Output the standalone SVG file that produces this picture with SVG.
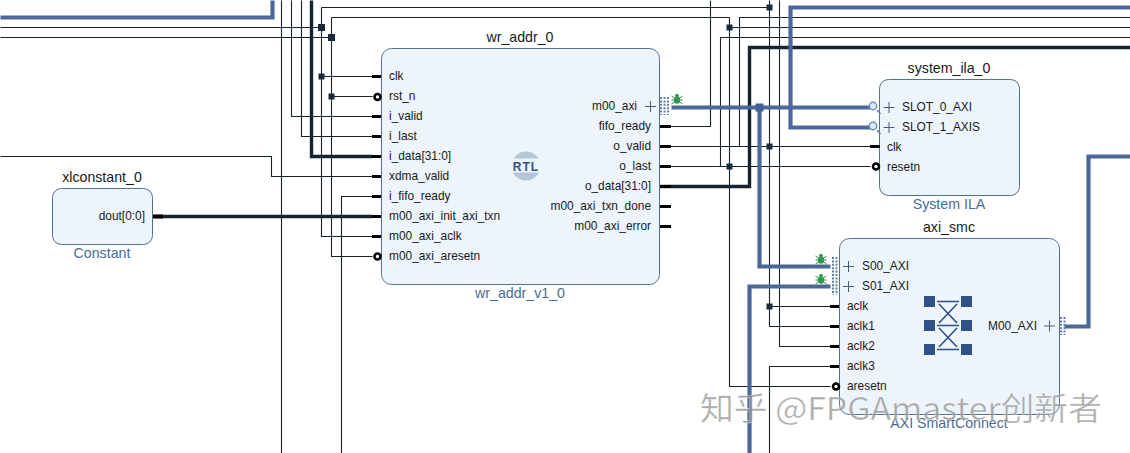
<svg xmlns="http://www.w3.org/2000/svg" width="1130" height="453" viewBox="0 0 1130 453">
<style>
text{font-family:"Liberation Sans",Arial,sans-serif}
.box{fill:#edf4fc;stroke:#54708f;stroke-width:1}
.t{font-size:14.200px;fill:#1a1a1a;text-anchor:middle}
.s{font-size:14.200px;fill:#4d6b91;text-anchor:middle}
.p{font-size:11.900px;fill:#1a1a1a}
.e{text-anchor:end}
.w{fill:none;stroke:#16222c;stroke-width:1.1}
.d{fill:none;stroke:#15242f;stroke-width:3.400}
.b{fill:none;stroke:#4c6899;stroke-width:4.200}
.j{fill:#1a2a38}
.st{stroke:#000;stroke-width:3;fill:none}
.inv{fill:#fff;stroke:#000;stroke-width:2.600}
.pl{stroke:#4a5d78;stroke-width:1;fill:none}
.dots{stroke:#5f7da8;stroke-width:2;stroke-dasharray:2 1.400;fill:none}
.ic{fill:#2f5286}
.icl{stroke:#2f5286;stroke-width:1.600;fill:none}
.bug{fill:#2e9a4c}
.bugl{stroke:#2e9a4c;stroke-width:1;fill:none}
.mag{fill:#dbe8f5;stroke:#5d86ad;stroke-width:1.200}
.wm{font-family:"Noto Sans CJK SC","Liberation Sans",sans-serif;font-size:31.500px;fill:#8c8c8c;fill-opacity:.72;stroke:#fff;stroke-width:.6;stroke-opacity:.6}
</style>
<defs>
<g id="bug"><ellipse cx="0" cy="0.5" rx="3.200" ry="3.800" class="bug"/><circle cx="0" cy="-4" r="1.800" class="bug"/><path class="bugl" d="M-5.500-3.500-2.500-1.500M5.500-3.500 2.500-1.500M-5.500 .5H-2.500M5.500 .5H2.500M-5.500 4.500-2.500 2.500M5.500 4.500 2.500 2.500"/></g>
<g id="plus"><path class="pl" d="M-5.500 0H5.500M0-5.500V5.500"/></g>
<g id="mag"><path d="M4 4 7.500 8" stroke="#5d86ad" stroke-width="1.500"/><circle r="3.800" class="mag"/></g>
</defs>

<g id="connectors" transform="translate(.5 .5)">
<path class="w" d="M0 27H321M0 37H331M281 0V453M291 0V116H372M301 0V136H372M321 7V236H372M331 17V256H372M321 76H372M331 96H372"/>
<path class="w" d="M321 7H769M331 17H729M769 0V326H830M779 0V346H830M729 17V386H830M729 27H1130M739 146V17H1130M720 166V37H1130"/>
<path class="w" d="M660 146H870M660 166H870M660 126H710V0M341 453V196H372M830 366H769V453M769 306H830M0 156H271V176H372"/>
<path class="d" d="M311 0V156H372M155 216H372M660 186H749V47H1130"/>
<path class="b" d="M0 17H272V0M671 107H870M759 107V266H830M870 127H790V7H1130M830 286H749V453M1064 326H1088V156H1130"/>
<rect x="755" y="103" width="8" height="8" fill="#3f5f96"/>
<rect class="j" x="317.500" y="23.500" width="7" height="7"/>
<rect class="j" x="327.500" y="33.500" width="7" height="7"/>
<rect class="j" x="318" y="73" width="6" height="6"/>
<rect class="j" x="328" y="93" width="6" height="6"/>
<rect class="j" x="766" y="4" width="6" height="6"/>
<rect class="j" x="726" y="24" width="6" height="6"/>
<rect class="j" x="766" y="143" width="6" height="6"/>
<rect class="j" x="726" y="163" width="6" height="6"/>
<rect class="j" x="766" y="303" width="6" height="6"/>
</g>

<g id="xlconstant_0">
<rect class="box" x="52.500" y="188.500" width="100" height="56" rx="9"/>
<text class="t" x="102" y="182">xlconstant_0</text>
<text class="s" x="102" y="258">Constant</text>
<text class="p e" x="145" y="220">dout[0:0]</text>
<path d="M153 216.500H163" stroke="#000" stroke-width="4"/>
</g>

<g id="wr_addr_0">
<rect class="box" x="381.500" y="48.500" width="278" height="236" rx="10"/>
<text class="t" x="520" y="42">wr_addr_0</text>
<text class="s" x="520" y="298">wr_addr_v1_0</text>
<path class="st" transform="translate(0 .5)" d="M372 76H381M372 116H381M372 136H381M372 156H381M372 176H381M372 196H381M372 216H381M372 236H381"/>
<path class="st" transform="translate(0 .5)" d="M660 126H671M660 146H671M660 166H671M660 186H671M660 206H671M660 226H671"/>
<circle class="inv" cx="377.500" cy="97" r="3"/>
<circle class="inv" cx="377.500" cy="256.500" r="3"/>
<text class="p" x="389" y="80">clk</text>
<text class="p" x="389" y="100">rst_n</text>
<text class="p" x="389" y="120">i_valid</text>
<text class="p" x="389" y="140">i_last</text>
<text class="p" x="389" y="160">i_data[31:0]</text>
<text class="p" x="389" y="180">xdma_valid</text>
<text class="p" x="389" y="200">i_fifo_ready</text>
<text class="p" x="389" y="220">m00_axi_init_axi_txn</text>
<text class="p" x="389" y="240">m00_axi_aclk</text>
<text class="p" x="389" y="260">m00_axi_aresetn</text>
<text class="p e" x="637" y="110">m00_axi</text>
<text class="p e" x="651" y="130">fifo_ready</text>
<text class="p e" x="651" y="150">o_valid</text>
<text class="p e" x="651" y="170">o_last</text>
<text class="p e" x="651" y="190">o_data[31:0]</text>
<text class="p e" x="651" y="210">m00_axi_txn_done</text>
<text class="p e" x="651" y="230">m00_axi_error</text>
<use href="#plus" x="650.500" y="106.500"/>
<path class="dots" d="M661 97V115M664.500 97V115M668 97V115"/>
<use href="#bug" x="677" y="99.500"/>
<circle cx="526" cy="166" r="14.500" fill="#b3c6d6"/>
<rect x="511" y="158.500" width="30" height="14" fill="#edf4fc"/>
<text x="526" y="170.500" font-size="12" font-weight="700" letter-spacing="1" fill="#2f5286" text-anchor="middle">RTL</text>
</g>

<g id="system_ila_0">
<rect class="box" x="879.500" y="79.500" width="140" height="116" rx="9"/>
<text class="t" x="949" y="73">system_ila_0</text>
<text class="s" x="949" y="209">System ILA</text>
<use href="#mag" x="873" y="106"/>
<use href="#mag" x="873" y="126"/>
<use href="#plus" x="889" y="107.500"/>
<use href="#plus" x="889" y="127.500"/>
<path class="st" transform="translate(0 .5)" d="M870 146H880"/>
<circle class="inv" cx="876" cy="166.500" r="3"/>
<text class="p" x="902" y="111">SLOT_0_AXI</text>
<text class="p" x="902" y="131">SLOT_1_AXIS</text>
<text class="p" x="887" y="151">clk</text>
<text class="p" x="887" y="171">resetn</text>
</g>

<g id="axi_smc">
<rect class="box" x="839.500" y="238.500" width="220" height="176" rx="10"/>
<text class="t" x="949" y="232">axi_smc</text>
<text class="s" x="949" y="428">AXI SmartConnect</text>
<path class="st" transform="translate(0 .5)" d="M830 306H839M830 326H839M830 346H839M830 366H839"/>
<circle class="inv" cx="836" cy="386.500" r="3"/>
<path class="dots" d="M833 257V295M836.500 257V295"/>
<use href="#bug" x="821" y="259.500"/>
<use href="#bug" x="821" y="279.500"/>
<use href="#plus" x="848.500" y="266.500"/>
<use href="#plus" x="848.500" y="286.500"/>
<text class="p" x="862" y="270">S00_AXI</text>
<text class="p" x="862" y="290">S01_AXI</text>
<text class="p" x="847" y="310">aclk</text>
<text class="p" x="847" y="330">aclk1</text>
<text class="p" x="847" y="350">aclk2</text>
<text class="p" x="847" y="370">aclk3</text>
<text class="p" x="847" y="390">aresetn</text>
<text class="p e" x="1037" y="330">M00_AXI</text>
<use href="#plus" x="1049.500" y="326"/>
<path class="dots" d="M1061 317V335M1064.500 317V335"/>
<g id="smc_icon">
<rect class="ic" x="924" y="296" width="11" height="11"/><rect class="ic" x="961" y="296" width="11" height="11"/>
<rect class="ic" x="924" y="320" width="11" height="11"/><rect class="ic" x="961" y="320" width="11" height="11"/>
<rect class="ic" x="924" y="344" width="11" height="11"/><rect class="ic" x="961" y="344" width="11" height="11"/>
<path class="icl" d="M937 301.500H959M937 325.500H959M937 349.500H959M939 304 957 323M957 304 939 323M939 328 957 347M957 328 939 347"/>
</g>
</g>

<text class="wm" x="700" y="420" textLength="402" lengthAdjust="spacingAndGlyphs">知乎 @FPGAmaster创新者</text>
</svg>
